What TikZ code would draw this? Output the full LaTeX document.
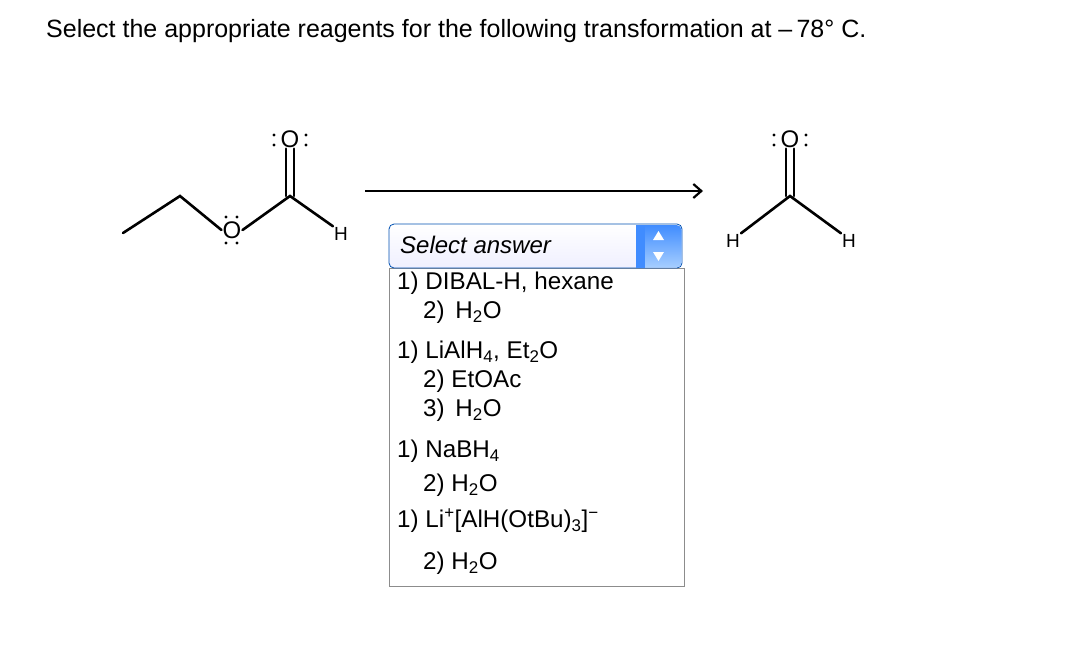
\documentclass[tikz,border=0pt]{standalone}
\usepackage{fontspec}
\setmainfont{Liberation Sans}
\usetikzlibrary{arrows.meta}
\begin{document}
\begin{tikzpicture}[x=1pt,y=-1pt,
  bond/.style={line width=2.6pt,line cap=round},
  atom/.style={inner sep=1pt,font=\fontsize{19}{19}\selectfont},
  opt/.style={anchor=west,inner sep=0pt,font=\fontsize{24.2}{24.2}\selectfont},
  dot/.style={circle,fill=black,inner sep=0pt,minimum size=3.4pt}]
\useasboundingbox (0,0) rectangle (1084,662);
\node[anchor=west,inner sep=0pt,font=\fontsize{25}{25}\selectfont] (title) at (46,31) {Select the appropriate reagents for the following transformation at –\,78° C.};
% left molecule
\coordinate (a1) at (123,233);
\coordinate (a2) at (180,196);
\node[atom,font=\fontsize{24}{24}\selectfont] (o1) at (232,230) {O};
\coordinate (c1) at (290,196);
\node[atom,font=\fontsize{24}{24}\selectfont] (o2) at (290,139) {O};
\node[atom] (h1) at (341,234) {H};
\draw[bond] (a1) -- (a2) -- (o1.west);
\draw[bond] (o1.east) -- (c1) -- (h1.north west);
\draw[bond] ([xshift=-4pt]c1) -- ([xshift=-4pt]o2.south);
\draw[bond] ([xshift=4pt]c1) -- ([xshift=4pt]o2.south);
\foreach \p in {(226,217),(237,217),(226,243),(237,243),(274,135),(274,145),(306,135),(306,145)} \node[dot] at \p {};
% arrow
\coordinate (s) at (365,191);
\coordinate (e) at (703,191);
\draw[line width=2.2pt,-{Straight Barb[length=8pt,width=14pt]}] (s) -- (e);
% right molecule
\coordinate (c2) at (790,196);
\node[atom,font=\fontsize{24}{24}\selectfont] (o3) at (790,139) {O};
\node[atom] (h2) at (733,241) {H};
\node[atom] (h3) at (849,241) {H};
\draw[bond] (h2.north east) -- (c2) -- (h3.north west);
\draw[bond] ([xshift=-4pt]c2) -- ([xshift=-4pt]o3.south);
\draw[bond] ([xshift=4pt]c2) -- ([xshift=4pt]o3.south);
\foreach \p in {(774,135),(774,145),(806,135),(806,145)} \node[dot] at \p {};
% dropdown
\node[draw=black!45,line width=0.8pt,fill=white,minimum width=295pt,minimum height=318pt,anchor=north west,inner sep=0pt] (list) at (389,268) {};
\shade[top color=white,bottom color=blue!6,rounded corners=5pt,draw=blue!55!cyan!70!black,line width=0.8pt] (389,224) rectangle (682,268);
\shade[top color=blue!60!cyan!75!white,bottom color=cyan!45!blue!35,rounded corners=5pt] (636,225) rectangle (681.5,267.5);
\fill[blue!60!cyan!75!white] (636,225) rectangle (645,267.5);
\fill[white] (653,240) -- (664,240) -- (658.5,231) -- cycle;
\fill[white] (653,252) -- (664,252) -- (658.5,261) -- cycle;
\node[anchor=west,inner sep=0pt,font=\fontsize{24}{24}\selectfont\itshape] (sel) at (400,245) {Select answer};
\node[opt] (t1) at (397,283) {1) DIBAL-H, hexane};
\node[opt] (t2) at (423,312) {2)\, H\textsubscript{2}O};
\node[opt] (t3) at (397,352) {1) LiAlH\textsubscript{4}, Et\textsubscript{2}O};
\node[opt] (t4) at (423,381) {2) EtOAc};
\node[opt] (t5) at (423,410) {3)\, H\textsubscript{2}O};
\node[opt] (t6) at (397,451) {1) NaBH\textsubscript{4}};
\node[opt] (t7) at (423,485) {2) H\textsubscript{2}O};
\node[opt] (t8) at (397,521) {1) Li\textsuperscript{+}[AlH(OtBu)\textsubscript{3}]\textsuperscript{−}};
\node[opt] (t9) at (423,563) {2) H\textsubscript{2}O};
\end{tikzpicture}
\end{document}
